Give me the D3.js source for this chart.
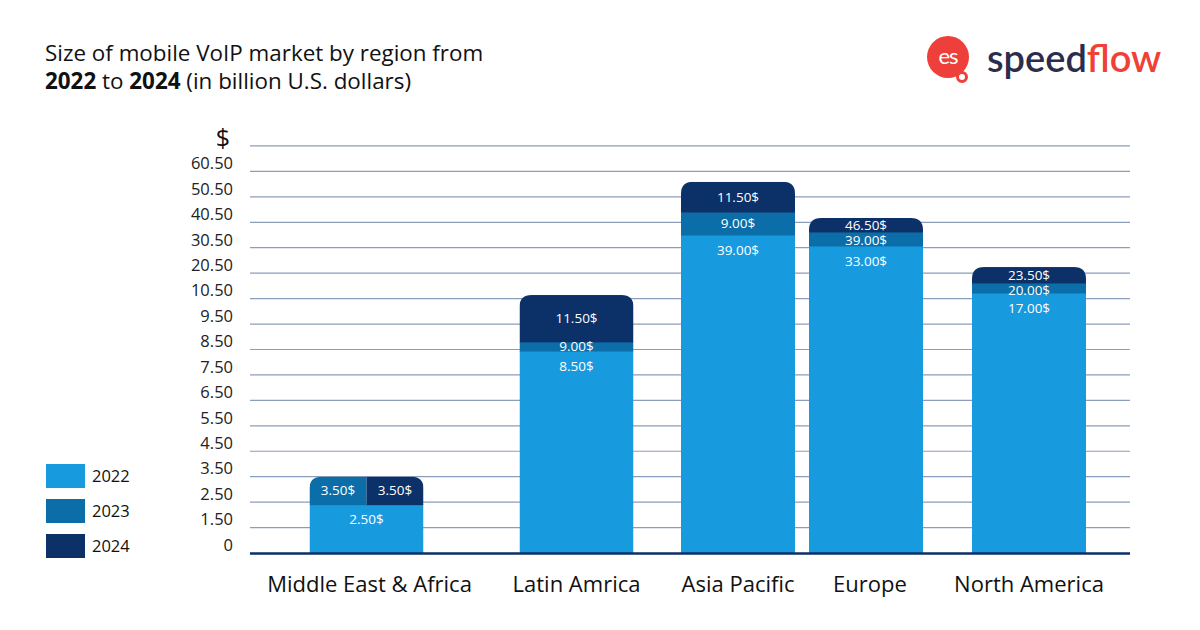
<!DOCTYPE html>
<html><head><meta charset="utf-8">
<script src="https://cdn.jsdelivr.net/npm/d3@7"></script>
<style>
html,body{margin:0;padding:0;background:#fff;}
svg{display:block;font-family:"Open Sans",sans-serif;}
</style></head>
<body><svg id="c" width="1200" height="630"></svg>
<script>
// ---- data ----
const categories = ["Middle East & Africa","Latin Amrica","Asia Pacific","Europe","North America"];
const years = ["2022","2023","2024"];
// cumulative segment tops as drawn, in axis units
const top2022 = [2.4, 8.44, 35.5, 31.2, 12.7];
const top2023 = [3.5, 8.8, 44.5, 36.7, 16.6];
const top2024 = [3.5, 11.9, 56.4, 42.2, 22.9];
// printed labels
const label2022 = ["2.50$","8.50$","39.00$","33.00$","17.00$"];
const label2023 = ["3.50$","9.00$","9.00$","39.00$","20.00$"];
const label2024 = ["3.50$","11.50$","11.50$","46.50$","23.50$"];
const tickValues = [0,1.5,2.5,3.5,4.5,5.5,6.5,7.5,8.5,9.5,10.5,20.5,30.5,40.5,50.5,60.5];
const tickLabels = ["0","1.50","2.50","3.50","4.50","5.50","6.50","7.50","8.50","9.50","10.50","20.50","30.50","40.50","50.50","60.50"];
const axisUnit = "$";
const colors = ["#189adf","#0b6ea8","#0c3068"];

// ---- layout ----
const svg = d3.select("#c");
const y0 = 553, step = 25.44, gx0 = 250, gx1 = 1130, barW = 114;
const y = d3.scaleLinear().domain(tickValues).range(tickValues.map((d,i)=>y0 - i*step));
const x = d3.scaleOrdinal().domain(categories).range([366.5, 576.5, 738, 866, 1029]);
const col = d3.scaleOrdinal().domain(years).range(colors);

// title
const t = svg.append("text").attr("x",45).attr("y",61).attr("font-size",22.4).attr("fill","#111");
t.text("Size of mobile VoIP market by region from");
const t2 = svg.append("text").attr("x",45).attr("y",89).attr("font-size",22.4).attr("fill","#111");
t2.append("tspan").attr("font-weight",700).text("2022");
t2.append("tspan").text(" to ");
t2.append("tspan").attr("font-weight",700).text("2024");
t2.append("tspan").text(" (in billion U.S. dollars)");

// logo
const lg = svg.append("g");
lg.append("circle").attr("cx",948).attr("cy",57).attr("r",21).attr("fill","#ee3f3a");
lg.append("text").attr("x",948).attr("y",64).attr("text-anchor","middle").attr("font-size",22)
  .attr("font-family","Lato, sans-serif").attr("fill","#fff").attr("letter-spacing",-1).text("es");
lg.append("circle").attr("cx",962).attr("cy",77).attr("r",4.5).attr("fill","#fff").attr("stroke","#ee3f3a").attr("stroke-width",3);
const lt = lg.append("text").attr("x",987).attr("y",72).attr("font-size",38).attr("font-family","Lato, sans-serif").attr("font-weight",600);
lt.append("tspan").attr("fill","#2c2c4c").text("speed");
lt.append("tspan").attr("fill","#ef4136").text("flow");

// gridlines
const gridLevels = tickValues.map((d,i)=>y0 - i*step).slice(1).concat([y0 - tickValues.length*step]);
svg.append("g").selectAll("line").data(gridLevels).join("line")
  .attr("x1",gx0).attr("x2",gx1).attr("y1",d=>d).attr("y2",d=>d)
  .attr("stroke","#8c9dba").attr("stroke-width",1.2);

// y axis labels
const yAxis = d3.axisLeft(y).tickValues(tickValues).tickFormat((d,i)=>tickLabels[i]).tickSize(0).tickPadding(0);
const ga = svg.append("g").attr("transform",`translate(233,-8)`).call(yAxis);
ga.select(".domain").remove();
ga.selectAll("text").attr("font-size",16.5).attr("fill","#222").attr("font-family","Open Sans, sans-serif");
svg.append("text").attr("x",223).attr("y",147).attr("text-anchor","middle").attr("font-size",25).attr("fill","#111").text(axisUnit);

// bars
const defs = svg.append("defs");
const r = 12;
categories.forEach((c,i)=>{
  const cx = x(c), xl = cx - barW/2, xr = cx + barW/2;
  const yt = y(top2024[i]), yb = y(0);
  const id = "clip"+i;
  defs.append("clipPath").attr("id",id).append("path")
    .attr("d",`M${xl},${yb}V${yt+r}Q${xl},${yt} ${xl+r},${yt}H${xr-r}Q${xr},${yt} ${xr},${yt+r}V${yb}Z`);
  const g = svg.append("g").attr("clip-path",`url(#${id})`);
  const split = top2024[i] === top2023[i];
  g.append("rect").attr("x",xl).attr("width",barW).attr("y",y(top2022[i])).attr("height",yb-y(top2022[i])).attr("fill",col("2022"));
  if (split) {
    g.append("rect").attr("x",xl).attr("width",barW/2).attr("y",y(top2023[i])).attr("height",y(top2022[i])-y(top2023[i])+0.5).attr("fill",col("2023"));
    g.append("rect").attr("x",cx).attr("width",barW/2).attr("y",y(top2024[i])).attr("height",y(top2022[i])-y(top2024[i])+0.5).attr("fill",col("2024"));
  } else {
    g.append("rect").attr("x",xl).attr("width",barW).attr("y",y(top2023[i])).attr("height",y(top2022[i])-y(top2023[i])+0.5).attr("fill",col("2023"));
    g.append("rect").attr("x",xl).attr("width",barW).attr("y",y(top2024[i])).attr("height",y(top2023[i])-y(top2024[i])+0.5).attr("fill",col("2024"));
  }
  // labels
  const lab = (tx,ty,s)=>svg.append("text").attr("x",tx).attr("y",ty).attr("dy","0.35em").attr("text-anchor","middle")
      .attr("font-size",13.5).attr("fill","#fff").text(s);
  const mid22 = y(top2022[i]);
  if (split) {
    const m = (y(top2023[i]) + mid22)/2;
    lab(cx - barW/4, m, label2023[i]);
    lab(cx + barW/4, m, label2024[i]);
    lab(cx, mid22 + 15, label2022[i]);
  } else {
    const c24 = (y(top2024[i]) + y(top2023[i]))/2;
    const c23 = Math.max((y(top2023[i]) + mid22)/2, c24 + 15);
    const c22 = Math.max(mid22 + 15, c23 + 15);
    lab(cx, c24, label2024[i]);
    lab(cx, c23, label2023[i]);
    lab(cx, c22, label2022[i]);
  }
});

// baseline
svg.append("line").attr("x1",gx0).attr("x2",gx1).attr("y1",y0+0.5).attr("y2",y0+0.5).attr("stroke","#0c2f66").attr("stroke-width",2.5);

// x labels
svg.append("g").selectAll("text").data(categories).join("text")
  .attr("x",d=>x(d)+ (d==="Europe"?4:(d==="Middle East & Africa"?3:0))).attr("y",592).attr("text-anchor","middle")
  .attr("font-size",22).attr("fill","#111").text(d=>d);

// legend
const lgd = svg.append("g");
years.forEach((yr,i)=>{
  lgd.append("rect").attr("x",46).attr("y",464+i*35).attr("width",39).attr("height",24).attr("fill",col(yr));
  lgd.append("text").attr("x",92).attr("y",476+i*35).attr("dy","0.35em").attr("font-size",16.5).attr("fill","#111").text(yr);
});
</script></body></html>
